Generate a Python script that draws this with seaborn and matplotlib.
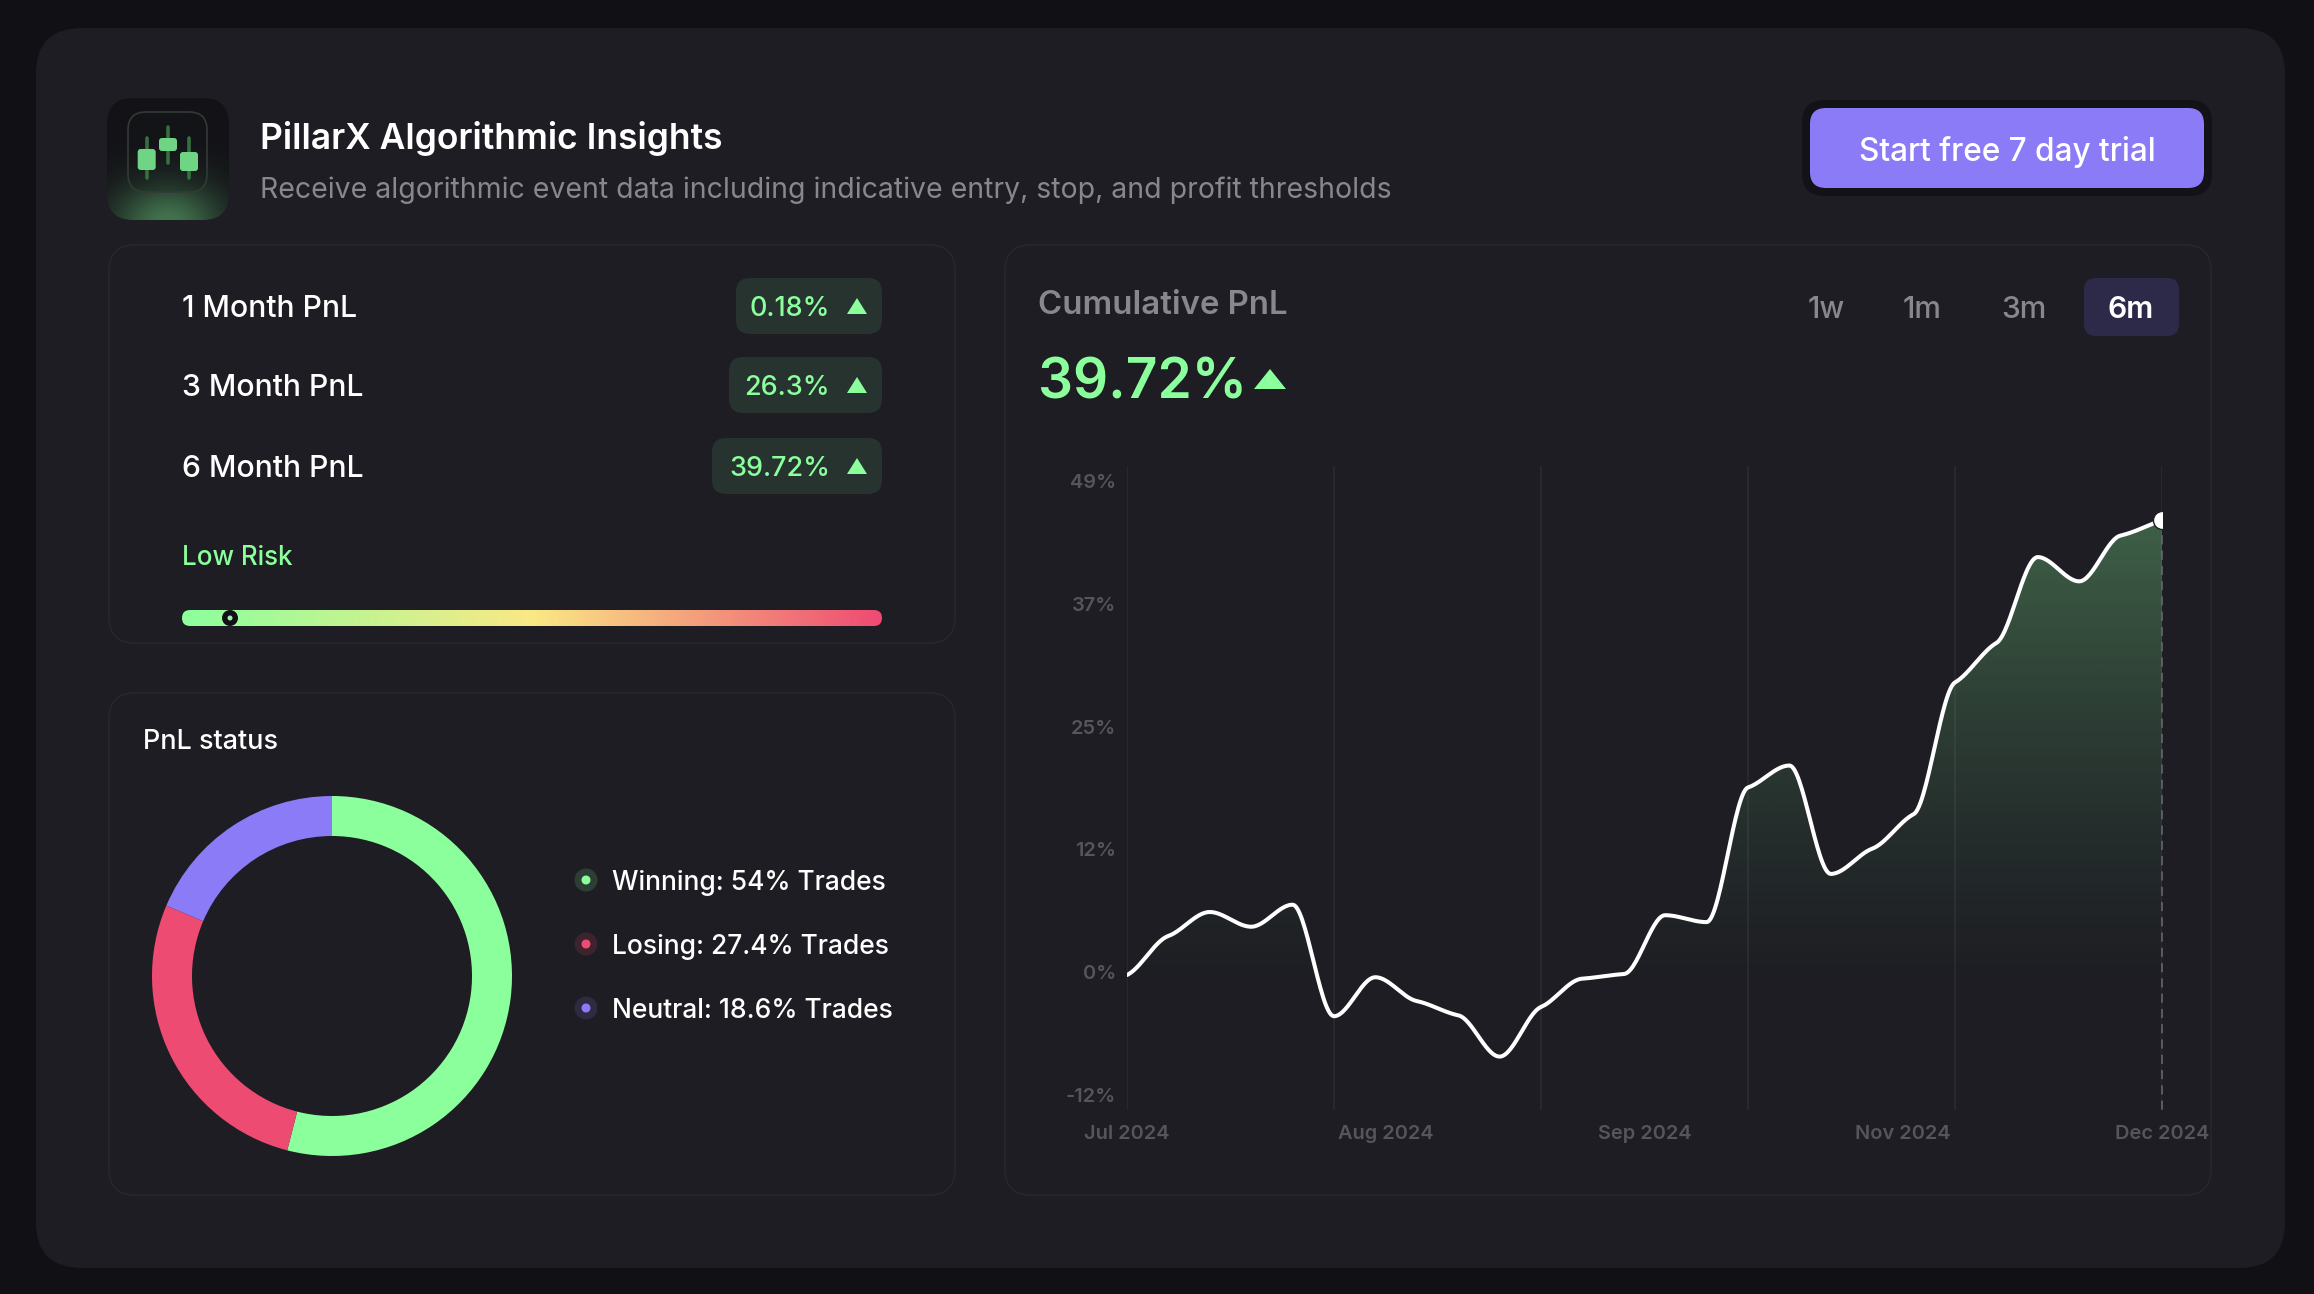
"""
PillarX dashboard card: PnL rows, risk bar, donut and cumulative PnL curve.
Everything outside the two data axes is laid out in pixels of the 2314x1294 picture.
"""
import numpy as np
import pandas as pd
import matplotlib
matplotlib.use("Agg")
import matplotlib.pyplot as plt
import seaborn as sns
from matplotlib.colors import LinearSegmentedColormap
from matplotlib.patches import FancyBboxPatch, Circle, Polygon
from matplotlib.transforms import ScaledTranslation

W, H = 2314, 1294

# --- data ---
pnl_labels = ["1 Month PnL", "3 Month PnL", "6 Month PnL"]
pnl_values = ["0.18%", "26.3%", "39.72%"]
status_labels = ["Winning: 54% Trades", "Losing: 27.4% Trades", "Neutral: 18.6% Trades"]
status_values = [54, 27.4, 18.6]
range_tabs = ["1w", "1m", "3m", "6m"]
cumulative_pnl = [0.0, 3.9, 6.29, 4.82, 7.02, -4.11, -0.22, -2.6, -4.02, -8.14, -3.19, -0.36, 0.1,
                  5.97, 5.28, 18.72, 20.91, 10.09, 12.61, 16.05, 29.2, 33.14, 41.71, 39.29, 43.86, 45.42]
y_ticks = [49, 36.75, 24.5, 12.25, 0, -12.25]
y_tick_labels = ["49%", "37%", "25%", "12%", "0%", "-12%"]
x_tick_pos = [0, 6.25, 12.5, 18.75, 25]
x_tick_labels = ["Jul 2024", "Aug 2024", "Sep 2024", "Nov 2024", "Dec 2024"]
x_grid_pos = [0, 5, 10, 15, 20, 25]

# --- colours ---
OUTER = "#111115"
CARD = "#1D1D23"
BORDER = "#25252B"
GREEN = "#8CFF9D"
RED = "#EE4B73"
PURPLE = "#8B7BF7"
GREY = "#87878D"
AXIS_TEXT = "#55555B"

sns.set_theme(style="dark")
plt.rcParams["font.family"] = ["Inter", "DejaVu Sans"]


def px_font(px):
    # font size in px -> points at dpi 100
    return px * 0.72


def rounded(ax, x0, y0, x1, y1, r, face, edge="none", lw=0, z=1):
    patch = FancyBboxPatch((x0 + r, y0 + r), x1 - x0 - 2 * r, y1 - y0 - 2 * r,
                           boxstyle=f"round,pad={r},rounding_size={r}",
                           fc=face, ec=edge, lw=lw, zorder=z)
    ax.add_patch(patch)
    return patch


def label(ax, x, y, s, px, color="white", ha="left", weight=500):
    ax.text(x, y, s, fontsize=px_font(px), color=color, ha=ha, va="center_baseline",
            fontweight=weight, zorder=6)


def triangle(ax, x0, x1, y0, y1):
    ax.add_patch(Polygon([(x0, y1), (x1, y1), ((x0 + x1) / 2, y0)], fc=GREEN, ec="none", zorder=6))


def smooth_curve(values, per_step=30):
    # monotone cubic between the read points; small tangents give the chart's shoulders
    y = np.asarray(values, dtype=float)
    s = np.diff(y)
    m = np.zeros_like(y)
    for i in range(1, len(y) - 1):
        if s[i - 1] * s[i] > 0:
            m[i] = np.sign(s[i]) * 0.6 * min(abs(s[i - 1]), abs(s[i]))
    m[0], m[-1] = 0.5 * s[0], s[-1]
    t = np.linspace(0, 1, per_step, endpoint=False)
    xs, ys = [], []
    for i in range(len(y) - 1):
        h00 = 2 * t**3 - 3 * t**2 + 1
        h10 = t**3 - 2 * t**2 + t
        h01 = -2 * t**3 + 3 * t**2
        h11 = t**3 - t**2
        ys.append(h00 * y[i] + h10 * m[i] + h01 * y[i + 1] + h11 * m[i + 1])
        xs.append(i + t)
    return np.append(np.concatenate(xs), len(y) - 1), np.append(np.concatenate(ys), y[-1])


fig = plt.figure(figsize=(W / 100, H / 100), dpi=100, facecolor=OUTER)

# background layer in picture pixels
bg = fig.add_axes([0, 0, 1, 1], zorder=0)
bg.set_xlim(0, W)
bg.set_ylim(H, 0)
bg.axis("off")

rounded(bg, 36, 28, 2285, 1268, 46, CARD)
rounded(bg, 109, 245, 955, 643, 26, CARD, BORDER, 1.4, z=2)
rounded(bg, 109, 693, 955, 1195, 26, CARD, BORDER, 1.4, z=2)
rounded(bg, 1005, 245, 2211, 1195, 26, CARD, BORDER, 1.4, z=2)

# logo
logo = rounded(bg, 107, 98, 229, 220, 26, "#131317", z=2)
yy, xx = np.mgrid[98:220:122j, 107:229:122j]
glow = np.exp(-(((xx - 168) / 55) ** 2 + ((yy - 224) / 42) ** 2))
rgba = np.zeros((122, 122, 4))
rgba[..., :3] = matplotlib.colors.to_rgb("#5FB070")
rgba[..., 3] = glow * 0.62
im = bg.imshow(rgba, extent=(107, 229, 220, 98), zorder=3, aspect="auto")
im.set_clip_path(logo)
rounded(bg, 128, 112, 207, 192, 18, "#16171A40", "#333A36", 1.2, z=3)
for cx, wick0, wick1, body0, body1 in [(146.7, 138, 178, 149, 170), (168, 127, 163, 138, 151), (189, 138, 178, 152, 171)]:
    bg.plot([cx, cx], [wick0, wick1], color="#35703F", lw=2.6, zorder=4, solid_capstyle="round")
    rounded(bg, cx - 9, body0, cx + 9, body1, 3, "#6FD585", z=5)

# header
label(bg, 260, 135, "PillarX Algorithmic Insights", 35.4, weight=600)
label(bg, 260, 187, "Receive algorithmic event data including indicative entry, stop, and profit thresholds", 28.4, GREY, weight=400)
rounded(bg, 1802, 100, 2212, 196, 22, "#121217", z=2)
rounded(bg, 1810, 108, 2204, 188, 16, PURPLE, z=3)
label(bg, 2007, 148, "Start free 7 day trial", 31.6, ha="center")

# PnL rows
row_y = [306, 385, 466]
pill_x0 = [736, 729, 712]
for name, value, cy, x0 in zip(pnl_labels, pnl_values, row_y, pill_x0):
    label(bg, 182, cy, name, 30.2, weight=500)
    rounded(bg, x0, cy - 28, 882, cy + 28, 14, "#27332F", z=3)
    label(bg, 830, cy, value, 27, GREEN, ha="right", weight=500)
    triangle(bg, 847, 867, cy - 8, cy + 8)

# risk bar
label(bg, 182, 555, "Low Risk", 26, GREEN)
risk_cmap = LinearSegmentedColormap.from_list("risk", [GREEN, "#FAE985", RED])
bar_clip = rounded(bg, 182, 610, 882, 626, 8, "none", z=3)
bar = bg.imshow(np.linspace(0, 1, 700)[None, :], cmap=risk_cmap, extent=(182, 882, 626, 610), zorder=3, aspect="auto")
bar.set_clip_path(bar_clip)
bg.add_patch(Circle((230, 618), 8, fc="#111115", ec="none", zorder=5))
bg.add_patch(Circle((230, 618), 2.5, fc="#A8E8B4", ec="none", zorder=6))

# donut legend
label(bg, 143, 739, "PnL status", 27)
legend_y = [880, 944, 1008]
for text, cy, col in zip(status_labels, legend_y, [GREEN, RED, PURPLE]):
    bg.add_patch(Circle((586, cy), 11.5, fc=col, alpha=0.15, ec="none", zorder=4))
    bg.add_patch(Circle((586, cy), 4.5, fc=col, ec="none", zorder=5))
    label(bg, 612, cy, text, 26.4)

# right panel header
label(bg, 1038, 302, "Cumulative PnL", 33, GREY, weight=600)
label(bg, 1038, 378, pnl_values[2], 55, GREEN, weight=600)
triangle(bg, 1254, 1286, 369, 389)
rounded(bg, 2084, 278, 2179, 336, 12, "#2D2948", z=3)
for tab, cx in zip(range_tabs, [1826, 1922, 2024, 2131]):
    if tab == "6m":
        label(bg, cx, 307, tab, 30, "white", ha="center", weight=600)
    else:
        label(bg, cx, 307, tab, 30, GREY, ha="center")

# donut
pie_ax = fig.add_axes([152 / W, 1 - 1156 / H, 360 / W, 360 / H], zorder=2)
pie_ax.pie(status_values, colors=[GREEN, RED, PURPLE], startangle=90, counterclock=False,
           radius=1, wedgeprops=dict(width=40 / 180, linewidth=0))
pie_ax.set_xlim(-1, 1)
pie_ax.set_ylim(-1, 1)

# cumulative PnL chart
ax = fig.add_axes([1127 / W, 1 - 1110 / H, (2162 - 1127) / W, (1110 - 466) / H], zorder=2)
ax.patch.set_alpha(0)
for side in ax.spines.values():
    side.set_visible(False)

x_dense, y_dense = smooth_curve(cumulative_pnl)
curve = pd.DataFrame({"step": x_dense, "pnl": y_dense})

# area under the curve, green fading out well above the axis bottom
fill = ax.fill_between(x_dense, y_dense, -13.47, color="none", lw=0)
shade = np.zeros((256, 1, 4))
shade[..., :3] = matplotlib.colors.to_rgb(GREEN)
shade[..., 3] = 0.3 * (1 - np.linspace(0, 1, 256)[:, None]) ** 1.4
grad = ax.imshow(shade, extent=(0, 25, -4, max(cumulative_pnl)), aspect="auto", zorder=1, origin="upper")
grad.set_clip_path(fill.get_paths()[0], ax.transData)

for gx in x_grid_pos:
    ax.axvline(gx, color="#2C2C32", lw=1.1, zorder=0)
ax.plot([25, 25], [cumulative_pnl[-1], -13.47], color="#6A6A70", lw=1.1, ls=(0, (6, 4)), zorder=2, clip_on=False)

sns.lineplot(data=curve, x="step", y="pnl", ax=ax, color="white", linewidth=2.9, zorder=3, errorbar=None, sort=False)
ax.scatter([25], [cumulative_pnl[-1]], s=170, color="white", edgecolor=CARD, linewidth=1.0, zorder=4)

ax.set_xlim(0, 25)
ax.set_ylim(-13.47, 50.8)
ax.set_xlabel("")
ax.set_ylabel("")
ax.set_xticks(x_tick_pos)
ax.set_xticklabels(x_tick_labels)
ax.set_yticks(y_ticks)
ax.set_yticklabels(y_tick_labels)
ax.tick_params(axis="both", length=0, labelsize=px_font(20), labelcolor=AXIS_TEXT)
ax.tick_params(axis="y", pad=8)
ax.tick_params(axis="x", pad=11)
ax.grid(False)
for t in ax.get_xticklabels() + ax.get_yticklabels():
    t.set_fontweight(600)
# the web chart sits its y labels a few pixels above the value
lift = ScaledTranslation(0, 3 / 100, fig.dpi_scale_trans)
for t in ax.get_yticklabels():
    t.set_transform(t.get_transform() + lift)

fig.savefig("out.png", dpi=100, facecolor=OUTER)
